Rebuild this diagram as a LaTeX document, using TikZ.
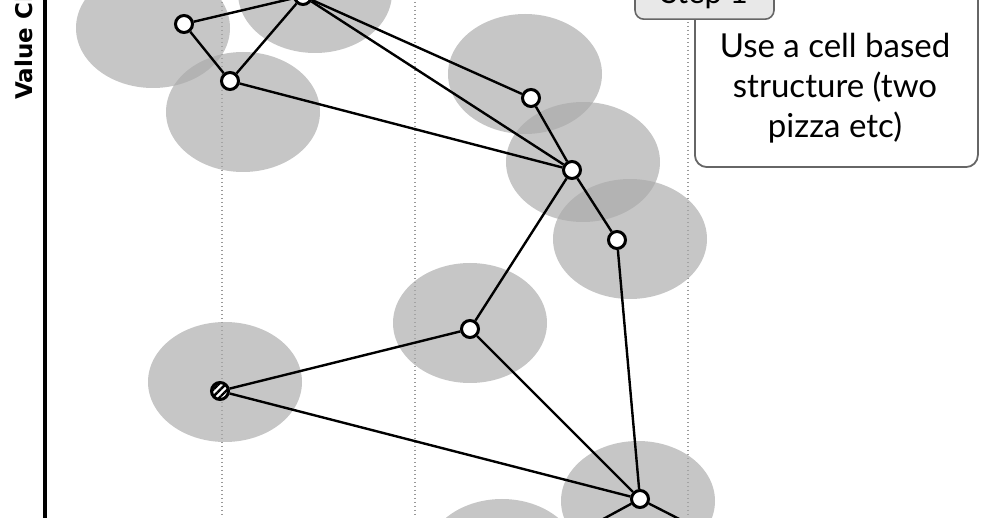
\documentclass[tikz,border=0pt]{standalone}
\usepackage{fontspec}
\setmainfont{Lato}
\newfontfamily\axisfont{DejaVu Sans}
\usetikzlibrary{patterns.meta}
\definecolor{blobgray}{gray}{0.667}
\definecolor{gridgray}{gray}{0.6}
\definecolor{boxedge}{gray}{0.4}
\definecolor{stepfill}{gray}{0.91}
\tikzset{
  blob/.style={fill=blobgray, fill opacity=0.67, draw=none},
  gridline/.style={gridgray, line width=1.4pt, dash pattern=on 1.4pt off 2.6pt},
  link/.style={black, line width=2.4pt},
  comp/.style={circle, draw=black, line width=3pt, fill=white, minimum size=17pt, inner sep=0pt},
  hatched/.style={comp, postaction={pattern={Lines[angle=45, distance=5pt, line width=2.4pt]}}},
  notebox/.style={draw=boxedge, line width=1.8pt, fill=white, rounded corners=12pt},
  stepbox/.style={draw=boxedge, line width=1.6pt, fill=stepfill, rounded corners=9pt},
}
\begin{document}
\begin{tikzpicture}[x=1pt,y=-1pt]
\useasboundingbox (0,0) rectangle (986,518);
\clip (0,0) rectangle (986,518);
% grid lines
\draw[gridline] (222,-10) -- (222,530);
\draw[gridline] (415,-10) -- (415,530);
\draw[gridline] (688,-10) -- (688,530);
% axis
\draw[line width=4pt] (45,-10) -- (45,530);
\node[rotate=90, anchor=base west, inner sep=0pt, font=\axisfont\bfseries\fontsize{23}{24}\selectfont] (axislabel) at (32.5,100) {Value Chain};
% blobs
\fill[blob] (153,28) ellipse [x radius=77, y radius=60];
\fill[blob] (315,-7) ellipse [x radius=77, y radius=60];
\fill[blob] (243,112) ellipse [x radius=77, y radius=60];
\fill[blob] (525,74) ellipse [x radius=77, y radius=60];
\fill[blob] (583,162) ellipse [x radius=77, y radius=60];
\fill[blob] (630,239) ellipse [x radius=77, y radius=60];
\fill[blob] (470,323) ellipse [x radius=77, y radius=60];
\fill[blob] (225,382) ellipse [x radius=77, y radius=60];
\fill[blob] (638,501) ellipse [x radius=77, y radius=60];
\fill[blob] (502,559) ellipse [x radius=77, y radius=60];
% components
\node[comp] (a) at (184,24) {};
\node[comp] (b) at (303,-4) {};
\node[comp] (c) at (230,81) {};
\node[comp] (d) at (531,98) {};
\node[comp] (e) at (572,170) {};
\node[comp] (f) at (617,240) {};
\node[comp] (g) at (470,329) {};
\node[hatched] (h) at (220,391) {};
\node[comp] (i) at (640,499) {};
\coordinate (j) at (502,574);
\coordinate (k) at (740,550);
% links
\draw[link] (a) -- (b);
\draw[link] (a) -- (c);
\draw[link] (c) -- (b);
\draw[link] (c) -- (e);
\draw[link] (b) -- (d);
\draw[link] (b) -- (e);
\draw[link] (d) -- (e);
\draw[link] (e) -- (f);
\draw[link] (e) -- (g);
\draw[link] (g) -- (h);
\draw[link] (g) -- (i);
\draw[link] (h) -- (i);
\draw[link] (f) -- (i);
\draw[link] (i) -- (j);
\draw[link] (i) -- (k);
% note boxes
\node[notebox, anchor=south west, minimum width=283pt, minimum height=220pt] (note) at (694,168) {};
\node[font=\fontsize{33}{40}\selectfont, align=center, inner sep=0pt] (notetext) at (835,88) {Use a cell based\\structure (two\\pizza etc)};
\node[stepbox, anchor=south, minimum width=139pt, minimum height=70pt] (step) at (704.5,20) {};
\node[font=\fontsize{31}{31}\selectfont, anchor=base, inner sep=0pt] (steptext) at (704.5,4) {Step 1};
\end{tikzpicture}
\end{document}
